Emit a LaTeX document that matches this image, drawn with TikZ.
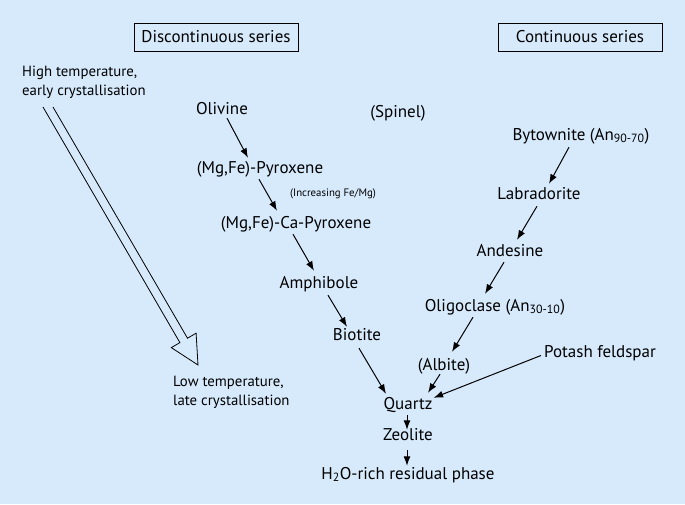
\documentclass[tikz,border=0pt]{standalone}
\usepackage{fontspec}
\setmainfont{PT Sans}
\usetikzlibrary{arrows.meta}
\definecolor{bgblue}{RGB}{214,234,252}
\begin{document}
\begin{tikzpicture}[x=1pt,y=-1pt,
  lbl/.style={inner sep=1pt,yshift=-1.5pt,text height=12pt,text depth=3pt,font=\fontsize{17}{19}\selectfont},
  side/.style={align=left,anchor=west,inner sep=0pt,font=\fontsize{14.8}{18}\selectfont},
  titlebox/.style={draw,line width=0.8pt,minimum width=164pt,minimum height=28pt,inner sep=0pt,font=\fontsize{17}{19}\selectfont},
  arr/.style={-{Latex[length=9.5pt,width=7pt]},line width=1pt}]
\fill[bgblue] (0,0) rectangle (685,504);
\useasboundingbox (0,0) rectangle (685,504);
\node[titlebox] (disc) at (216,37) {Discontinuous series};
\node[titlebox] (cont) at (580,37) {Continuous series};
\node[side] (high) at (22,82) {High temperature,\\[1pt]early crystallisation};
\node[side] (low) at (173,392) {Low temperature,\\[1pt]late crystallisation};
\node[lbl] (oli) at (222,108) {Olivine};
\node[lbl] (spi) at (398,111) {(Spinel)};
\node[lbl] (pyx) at (260,167) {(Mg,Fe)-Pyroxene};
\node[inner sep=0pt,font=\fontsize{10.8}{12}\selectfont] (femg) at (333,194) {(Increasing Fe/Mg)};
\node[lbl] (capyx) at (296,222) {(Mg,Fe)-Ca-Pyroxene};
\node[lbl] (amph) at (319,282) {Amphibole};
\node[lbl] (bio) at (357,334) {Biotite};
\node[lbl] (byt) at (581,134) {Bytownite (An\textsubscript{90-70})};
\node[lbl] (lab) at (539,193) {Labradorite};
\node[lbl] (and) at (510,250) {Andesine};
\node[lbl] (olig) at (495,305) {Oligoclase (An\textsubscript{30-10})};
\node[lbl] (alb) at (444,364) {(Albite)};
\node[lbl] (pot) at (600,351) {Potash feldspar};
\node[lbl] (qtz) at (408,403) {Quartz};
\node[lbl] (zeo) at (408,434) {Zeolite};
\node[lbl] (res) at (408,473) {H\textsubscript{2}O-rich residual phase};
\draw[arr] ([xshift=5pt]oli.south) -- ([xshift=-12pt,yshift=2pt]pyx.north);
\draw[arr] ([xshift=-1pt,yshift=-2pt]pyx.south) -- ([xshift=-19pt,yshift=4pt]capyx.north);
\draw[arr] ([xshift=-3pt,yshift=-2pt]capyx.south) -- ([xshift=-5pt,yshift=4pt]amph.north);
\draw[arr] ([xshift=9pt,yshift=-3pt]amph.south) -- ([xshift=-10pt]bio.north);
\draw[arr] ([xshift=2pt,yshift=-4pt]bio.south) -- ([xshift=-22pt,yshift=2pt]qtz.north);
\draw[arr] ([xshift=-12pt,yshift=-3pt]byt.south) -- ([xshift=10pt,yshift=2pt]lab.north);
\draw[arr] ([xshift=-2pt,yshift=-3pt]lab.south) -- ([xshift=7pt,yshift=3pt]and.north);
\draw[arr] ([xshift=-6pt,yshift=-2pt]and.south) -- ([xshift=-10pt,yshift=4pt]olig.north);
\draw[arr] ([xshift=-22pt,yshift=-2pt]olig.south) -- ([xshift=8pt,yshift=5pt]alb.north);
\draw[arr] ([xshift=-4pt]alb.south) -- ([xshift=20pt,yshift=3pt]qtz.north);
\draw[arr] ([xshift=-2pt,yshift=-3pt]pot.west) -- ([yshift=-2pt]qtz.north east);
\draw[arr] ([xshift=-1pt,yshift=-2pt]qtz.south) -- ([xshift=-1pt,yshift=-3pt]zeo.north);
\draw[arr] ([xshift=-1pt,yshift=-6pt]zeo.south) -- ([xshift=-1pt]res.north);
\coordinate (s1) at (43,107);
\coordinate (s2) at (53,107);
\coordinate (j1) at (179.9,342.6);
\coordinate (j2) at (187.5,338.2);
\coordinate (c1) at (171.3,347.6);
\coordinate (c2) at (196.1,333.2);
\coordinate (tip) at (198,365);
\draw[line width=0.8pt,line join=miter] (s1) -- (j1) -- (c1) -- (tip) -- (c2) -- (j2) -- (s2);
\end{tikzpicture}
\end{document}
